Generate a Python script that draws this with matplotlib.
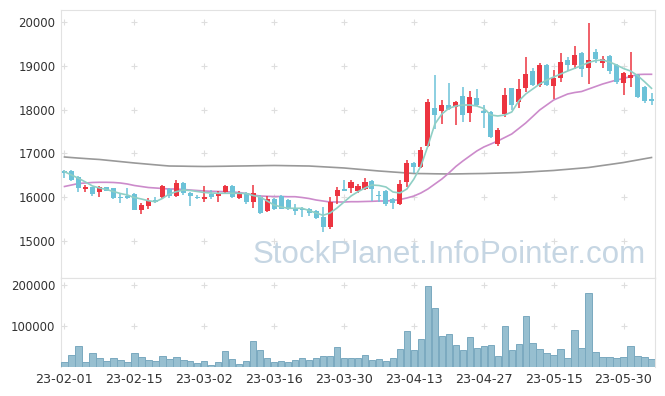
import matplotlib
matplotlib.use("Agg")
import matplotlib.pyplot as plt
import numpy as np

# daily candles, 23-02-01 .. 23-06-02 (trading days)
opens = [16605, 16598, 16468, 16187, 16233, 16126, 16226, 16203, 16011, 16034,
         16066, 15708, 15806, 15943, 16011, 16187, 16034, 16332, 16103, 16011,
         15958, 16066, 16034, 16111, 16256, 15989, 16103, 15897, 16011, 15692,
         15959, 16027, 15943, 15746, 15725, 15738, 15678, 15555, 15326, 16034,
         16187, 16217, 16146, 16180, 16370, 16050, 16141, 15959, 15845, 16355,
         16773, 16682, 17175, 18029, 17975, 18105, 18060, 18311, 17929, 18258,
         17975, 17952, 17215, 17900, 18486, 18174, 18486, 18881, 18562, 19018,
         18546, 18728, 19133, 19018, 19300, 18950, 19315, 19057, 19224, 19018,
         18600, 18714, 18790, 18525, 18235]
highs = [16630, 16620, 16480, 16278, 16240, 16250, 16240, 16220, 16103, 16203,
         16103, 15860, 15975, 16000, 16278, 16210, 16393, 16350, 16120, 16050,
         16256, 16172, 16140, 16278, 16270, 16130, 16120, 16278, 16050, 16034,
         15980, 16050, 15960, 15845, 15783, 15760, 15700, 15783, 16011, 16240,
         16393, 16393, 16290, 16430, 16390, 16141, 16160, 15980, 16385, 16850,
         16800, 17150, 18242, 18790, 18219, 18600, 18200, 18525, 18420, 18470,
         18105, 17970, 17580, 18486, 18500, 18692, 19208, 18950, 19060, 19040,
         18900, 19290, 19210, 19450, 19320, 19970, 19383, 19220, 19240, 19040,
         18850, 19315, 18820, 18540, 18387]
lows = [16430, 16370, 16125, 16111, 16034, 16011, 16130, 15960, 15860, 15960,
        15700, 15620, 15730, 15860, 15980, 15990, 16000, 16040, 15806, 15950,
        15883, 15970, 15900, 16080, 15990, 15960, 15837, 15746, 15620, 15670,
        15700, 15720, 15700, 15594, 15550, 15580, 15500, 15212, 15280, 15837,
        16130, 16088, 16100, 16160, 15906, 15883, 15790, 15730, 15830, 16240,
        16546, 16660, 17153, 17557, 17671, 17990, 17640, 17724, 17724, 18080,
        17573, 17345, 17180, 17840, 17990, 18030, 18410, 18540, 18520, 18540,
        18235, 18640, 18880, 18920, 18736, 18584, 19057, 18960, 18805, 18580,
        18334, 18523, 18260, 18144, 18105]
closes = [16546, 16393, 16203, 16233, 16073, 16233, 16148, 15989, 15975, 15989,
          15708, 15822, 15913, 15897, 16256, 16034, 16332, 16088, 16034, 15989,
          16011, 16011, 16088, 16256, 16011, 16103, 15897, 16103, 15646, 15959,
          15731, 15738, 15724, 15692, 15708, 15646, 15525, 15326, 15897, 16164,
          16148, 16355, 16262, 16355, 16180, 16027, 15837, 15860, 16294, 16788,
          16682, 17077, 18174, 17876, 18105, 18014, 18170, 17877, 18281, 18105,
          17929, 17381, 17534, 18333, 18105, 18463, 18813, 18562, 19018, 18562,
          18714, 19079, 19018, 19247, 18927, 19140, 19155, 19163, 18881, 18638,
          18828, 18790, 18281, 18205, 18205]
volumes = [11500, 28500, 50500, 11500, 33400, 21200, 13900, 21200, 17100, 11500,
           33400, 23700, 16300, 13900, 26100, 18800, 23700, 16300, 13900, 9000,
           13900, 4100, 11500, 38300, 18800, 6600, 13900, 62700, 40700, 21200,
           11500, 13900, 11500, 16300, 21200, 16300, 21200, 26100, 26100, 48000,
           21200, 21200, 21200, 28500, 16300, 18800, 13900, 21200, 43100, 87000,
           40700, 67500, 197600, 143100, 74800, 79700, 52900, 40700, 72400, 45600,
           50500, 52900, 26100, 99200, 40700, 55300, 123600, 57800, 43100, 33400,
           28500, 43100, 21200, 89500, 45600, 179700, 35800, 23700, 23700, 21200,
           23700, 50500, 26100, 23700, 18800]

ma5 = [16582, 16507, 16431, 16347, 16256, 16210, 16176, 16130, 16084, 16050,
       15993, 15959, 15920, 15897, 15970, 16073, 16126, 16164, 16153, 16130,
       16107, 16096, 16089, 16089, 16089, 16089, 16084, 16039, 16005, 15913,
       15822, 15776, 15747, 15747, 15747, 15696, 15639, 15587, 15639, 15753,
       15890, 16027, 16126, 16210, 16278, 16267, 16233, 16119, 16096, 16187,
       16415, 16712, 17169, 17671, 17899, 18030, 18082, 18105, 18105, 18082,
       18025, 17877, 17854, 17877, 17945, 18196, 18356, 18470, 18584, 18676,
       18744, 18813, 18881, 18943, 19007, 19075, 19121, 19132, 19087, 19018,
       18938, 18881, 18778, 18637, 18486]
ma20 = [16244, 16278, 16313, 16324, 16336, 16340, 16340, 16336, 16324, 16301,
        16267, 16244, 16221, 16210, 16199, 16187, 16187, 16176, 16164, 16153,
        16141, 16135, 16130, 16126, 16119, 16107, 16084, 16050, 16027, 16020,
        16016, 16016, 16011, 16011, 15993, 15970, 15936, 15913, 15890, 15890,
        15890, 15897, 15897, 15902, 15906, 15913, 15913, 15925, 15947, 15982,
        16027, 16096, 16187, 16301, 16415, 16552, 16701, 16826, 16941, 17055,
        17146, 17214, 17283, 17363, 17443, 17568, 17694, 17842, 17991, 18105,
        18219, 18288, 18356, 18390, 18413, 18470, 18527, 18584, 18630, 18676,
        18710, 18756, 18801, 18806, 18806]
ma120 = [16918, 16905, 16893, 16882, 16871, 16861, 16845, 16829, 16813, 16797,
         16781, 16767, 16753, 16739, 16725, 16712, 16710, 16708, 16705, 16703,
         16701, 16703, 16705, 16707, 16710, 16712, 16714, 16717, 16719, 16722,
         16724, 16722, 16719, 16717, 16714, 16712, 16703, 16694, 16685, 16676,
         16667, 16653, 16639, 16626, 16612, 16598, 16587, 16575, 16564, 16552,
         16541, 16539, 16537, 16534, 16532, 16530, 16532, 16534, 16537, 16539,
         16541, 16546, 16550, 16555, 16559, 16564, 16573, 16582, 16592, 16601,
         16610, 16624, 16637, 16651, 16664, 16678, 16701, 16724, 16746, 16769,
         16792, 16821, 16849, 16878, 16906]

date_labels = ["23-02-01", "23-02-15", "23-03-02", "23-03-16", "23-03-30",
               "23-04-13", "23-04-27", "23-05-15", "23-05-30"]
price_ticks = [15000, 16000, 17000, 18000, 19000, 20000]
volume_ticks = [100000, 200000]

UP = "#ec3440"
DOWN = "#6cc2d8"
GRID = "#dedede"

o = np.array(opens)
c = np.array(closes)
x = np.arange(len(o))
up = c >= o
colors = np.where(up, UP, DOWN)
date_pos = x[::10][:len(date_labels)]

fig = plt.figure(figsize=(6.65, 3.96), dpi=100)
ax = fig.add_axes([61 / 665, 1 - 278 / 396, 594 / 665, 268 / 396])
axv = fig.add_axes([61 / 665, 1 - 367 / 396, 594 / 665, 89 / 396], sharex=ax)

# moving averages
ax.plot(x, ma120, color="#999999", lw=1.2, zorder=2)
ax.plot(x, ma20, color="#cc8bcb", lw=1.2, zorder=2)
ax.plot(x, ma5, color="#8fcfc5", lw=1.2, zorder=4)

# candles
ax.vlines(x, lows, highs, colors=colors, lw=1.1, zorder=3)
body = np.maximum(np.abs(c - o), 25)
ax.bar(x, body, bottom=np.minimum(o, c), width=0.72, color=colors,
       linewidth=0, zorder=3)

# volume
axv.bar(x, volumes, width=0.92, color="#97bfd0", edgecolor="#7aa9bf",
        linewidth=0.7, zorder=3)

ax.set_xlim(-0.5, len(o) - 0.5)
ax.set_ylim(14155, 20274)
axv.set_ylim(0, 216000)

ax.set_yticks(price_ticks)
ax.set_yticklabels([str(t) for t in price_ticks])
axv.set_yticks(volume_ticks)
axv.set_yticklabels([str(t) for t in volume_ticks])
axv.set_xticks(date_pos)
axv.set_xticklabels(date_labels)
ax.tick_params(axis="x", labelbottom=False, length=0)

for a in (ax, axv):
    a.tick_params(length=0, labelsize=8.5, colors="#333333", pad=4)
    for s in a.spines.values():
        s.set_color("#e2e2e2")
        s.set_linewidth(0.8)
    # plus-shaped grid marks at tick crossings
    gx, gy = np.meshgrid(date_pos, a.get_yticks())
    a.plot(gx.ravel(), gy.ravel(), "+", color=GRID, ms=4.5, mew=0.8, zorder=1)
axv.spines["bottom"].set_visible(False)
axv.tick_params(axis="x", labelsize=9.2)

ax.text(0.653, 0.085, "StockPlanet.InfoPointer.com", transform=ax.transAxes,
        ha="center", va="center", fontsize=22.5, color="#c6d6e3",
        family="Liberation Sans", zorder=5)

fig.savefig("out.png", dpi=100)
